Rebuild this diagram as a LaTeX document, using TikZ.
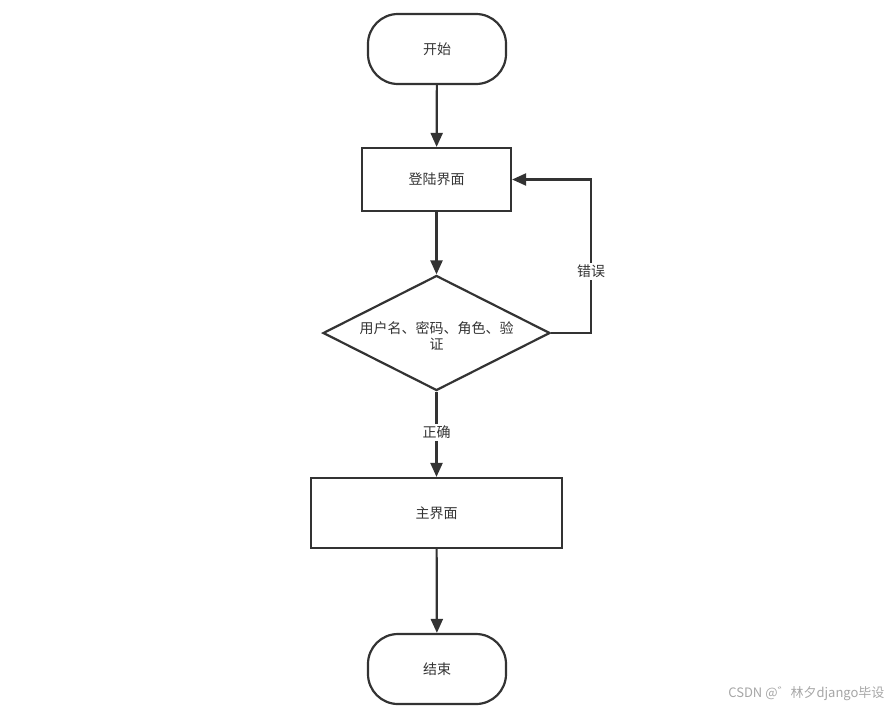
\documentclass[tikz,border=0pt]{standalone}
\usepackage{fontspec}
\setmainfont{Noto Sans CJK SC}
\usetikzlibrary{shapes.geometric,arrows.meta}
\definecolor{ln}{HTML}{333333}
\begin{document}
\begin{tikzpicture}[x=1pt,y=-1pt,
  box/.style={draw=ln,line width=2.2pt,minimum width=#1,font=\fontsize{14}{16}\selectfont,text=ln},
  arr/.style={draw=ln,line width=2.2pt,-{Triangle[length=14pt,width=12pt]}},
  lbl/.style={font=\fontsize{14}{16}\selectfont,text=ln,fill=white,inner sep=2pt}]
\useasboundingbox (0,0) rectangle (890,710);
\node[box=138pt,minimum height=70pt,rounded corners=30pt] (start) at (437,49) {开始};
\node[box=149pt,minimum height=63pt] (login) at (436.5,179.5) {登陆界面};
\node[draw=ln,line width=2.2pt,diamond,aspect=1.97,minimum width=227pt,minimum height=115pt,inner sep=0pt] (chk) at (436.5,333) {};
\node[font=\fontsize{14}{16}\selectfont,text=ln,align=center] at (436.5,336) {用户名、密码、角色、验\\证};
\node[box=251pt,minimum height=70pt] (main) at (436.5,513) {主界面};
\node[box=138pt,minimum height=70pt,rounded corners=30pt] (end) at (437,669) {结束};
\coordinate (r1) at (591,333);
\coordinate (r2) at (591,179.5);
\draw[arr] (start) -- (login);
\draw[arr] (login) -- (chk);
\draw[arr] (chk) -- node[lbl,pos=0.48]{正确} (main);
\draw[arr] (main) -- (end);
\draw[arr] (chk.east) -- (r1) -- node[lbl,pos=0.4]{错误} (r2) -- (login.east);
\node[font=\fontsize{13}{15}\selectfont,text=gray!70,anchor=east] (wm) at (888,694) {CSDN @゛林夕django毕设};
\end{tikzpicture}
\end{document}
